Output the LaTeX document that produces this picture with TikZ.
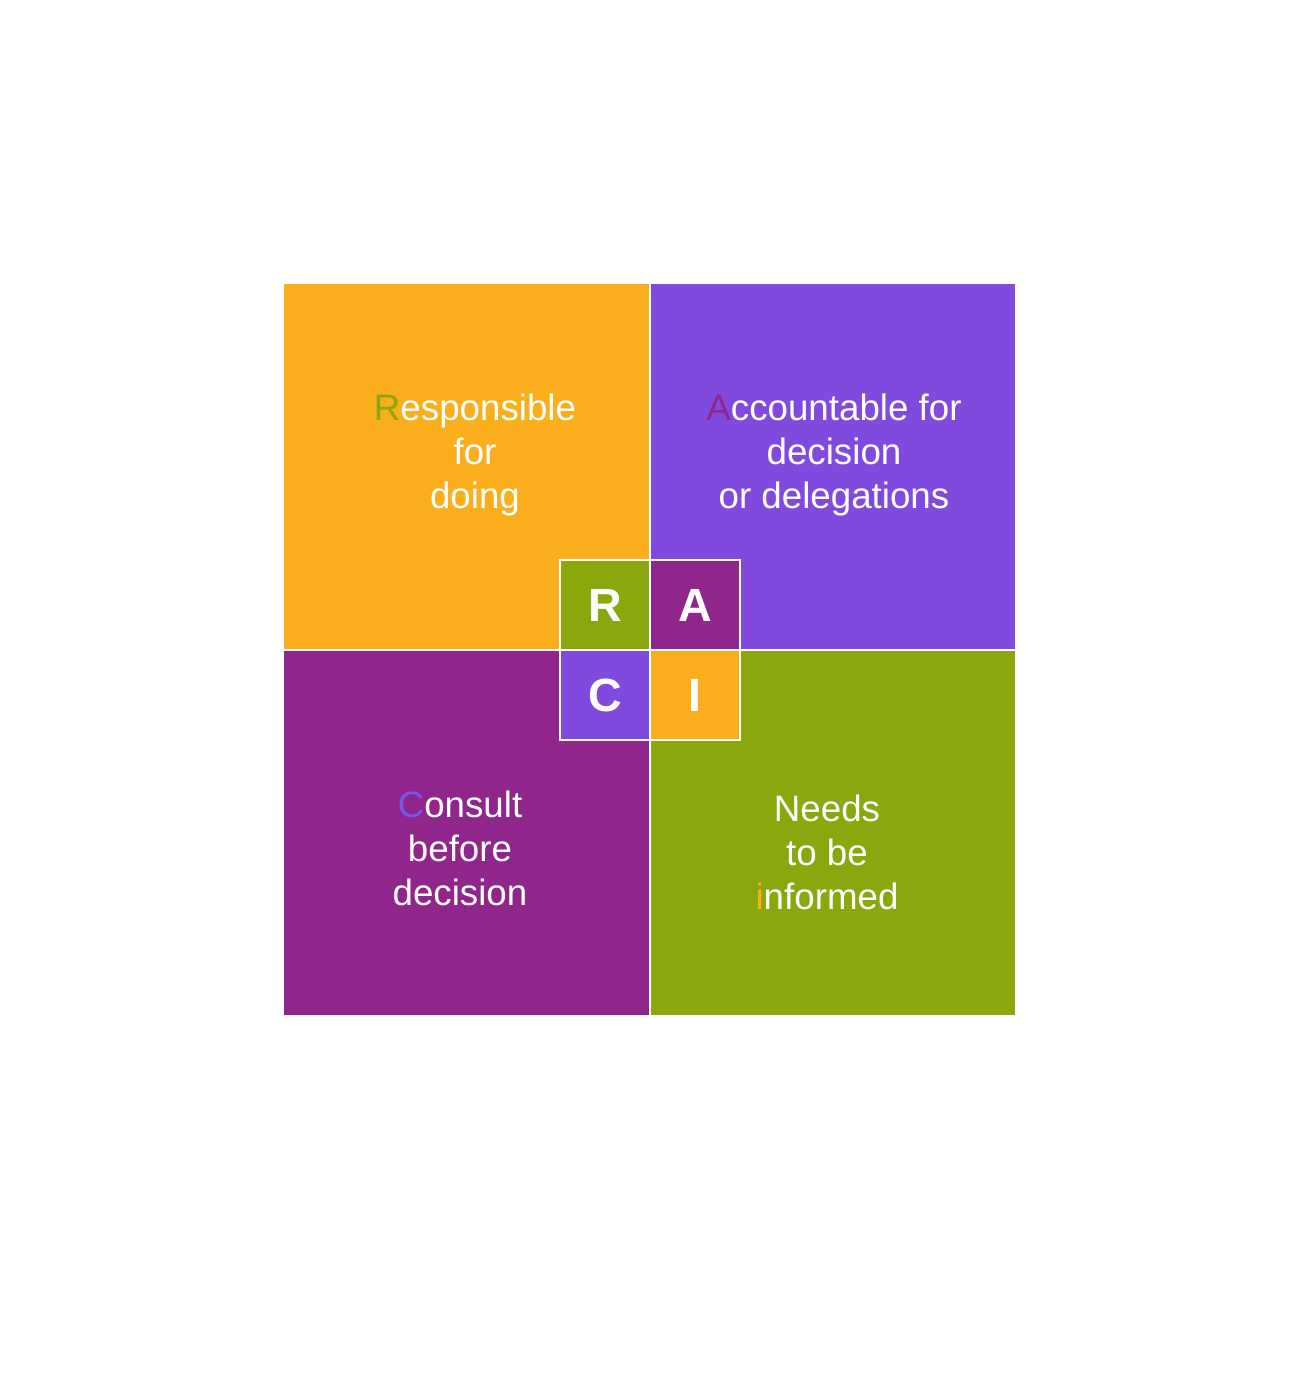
\documentclass[tikz,border=0pt]{standalone}
\usepackage{fontspec}
\setmainfont{Liberation Sans}
\usepackage{xcolor}
\usetikzlibrary{positioning}

\definecolor{raciorange}{HTML}{FBAE1B}
\definecolor{racipurple}{HTML}{814ADF}
\definecolor{racimagenta}{HTML}{90268C}
\definecolor{racigreen}{HTML}{8AA70E}
\definecolor{raciblue}{HTML}{7557E8}

\tikzset{
  quad/.style={draw=white, line width=0.6pt},
  word/.style={text=white, align=center, inner sep=0pt, font=\fontsize{20.9}{25}\selectfont},
  letter/.style={draw=white, line width=1pt, minimum size=1.8cm, inner sep=0pt, outer sep=0pt, text=white, font=\bfseries\fontsize{26.5}{30}\selectfont}
}

\begin{document}
\begin{tikzpicture}[x=0.02cm, y=-0.02cm]
            \useasboundingbox (0,0) rectangle (1300,1390);
            \fill[white] (0,0) rectangle (1300,1390);

            % Quadrants
            \filldraw[quad, fill=raciorange] (283,283) rectangle (650,650);
            \filldraw[quad, fill=racipurple] (650,283) rectangle (1016,650);
            \filldraw[quad, fill=racimagenta] (283,650) rectangle (650,1016);
            \filldraw[quad, fill=racigreen] (650,650) rectangle (1016,1016);

            % Texts
            \node[word] (resp) at (475,455) {\textcolor{racigreen}{R}esponsible\\for\\doing};
            \node[word] (acc) at (834,455) {\textcolor{racimagenta}{A}ccountable for\\decision\\or delegations};
            \node[word] (cons) at (460,848) {\textcolor{raciblue}{C}onsult\\before\\decision};
            \node[word] (inf) at (827,852) {Needs\\to be\\\textcolor{raciorange}{i}nformed};

            % Letters
            \node[letter, fill=racigreen] (R) at (605,605) {R};
            \node[letter, fill=racimagenta, right=0pt of R] (A) {A};
            \node[letter, fill=racipurple, below=0pt of R] (C) {C};
            \node[letter, fill=raciorange, right=0pt of C] (I) {I};
        \end{tikzpicture}
\end{document}
